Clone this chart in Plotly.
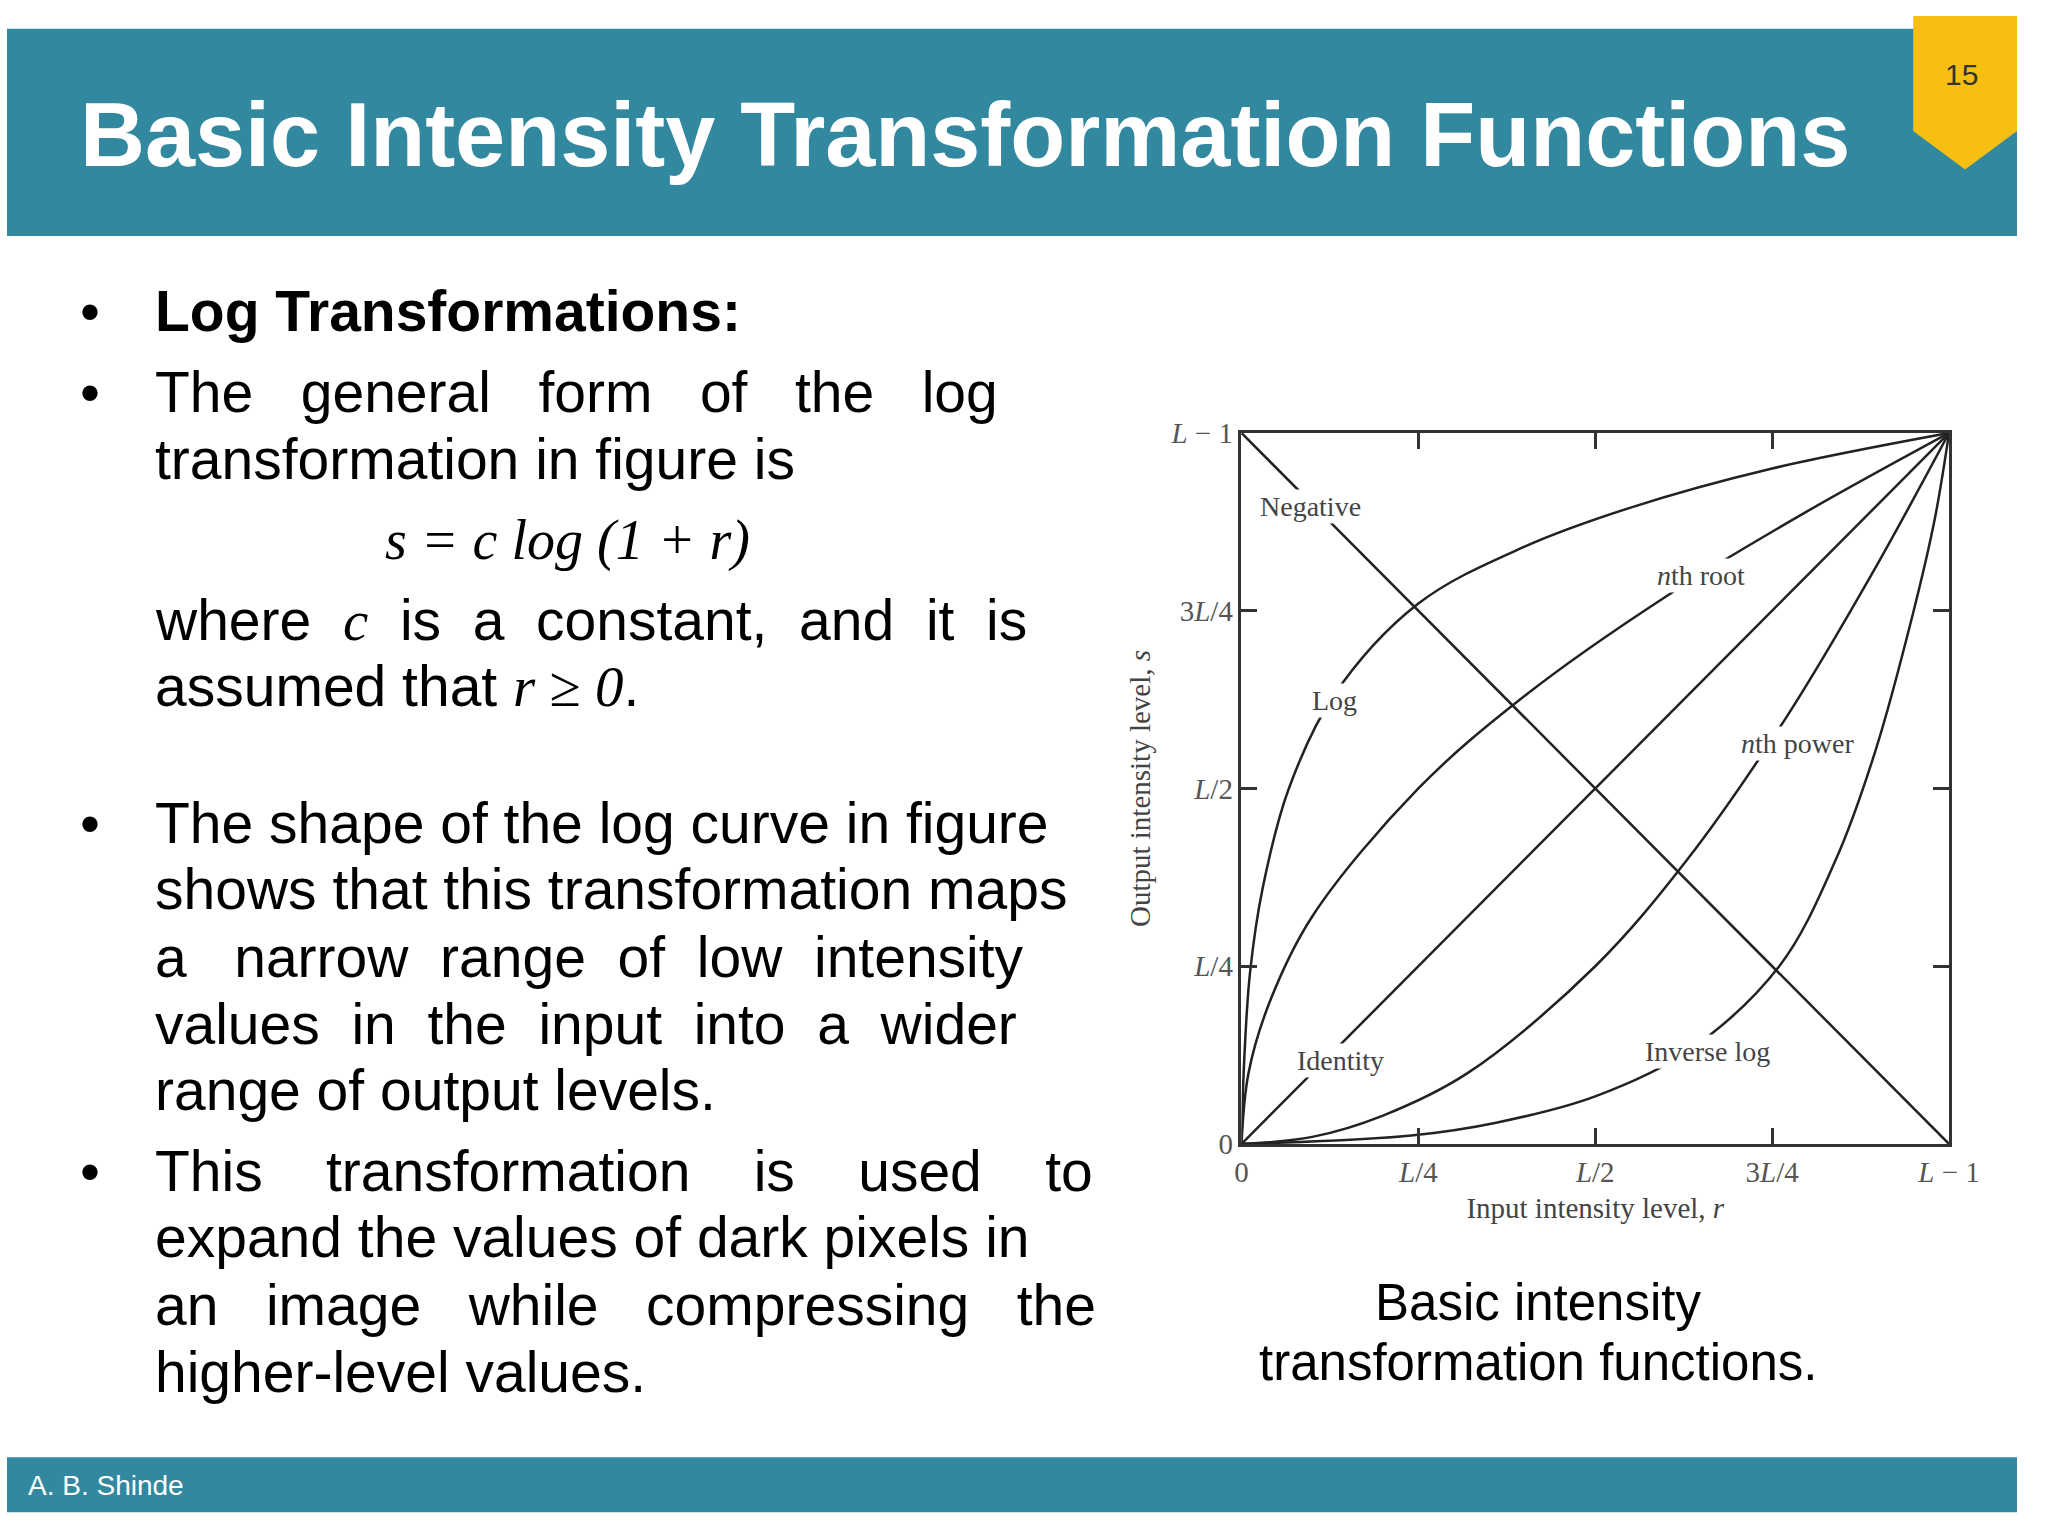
import plotly.graph_objects as go

W, H = 2048, 1536
S = 2048/1568

# data (fractions of L-1)
neg_x = [0, 1]; neg_y = [1, 0]
id_x = [0, 1]; id_y = [0, 1]
log_x = [0, 0.004, 0.012, 0.03, 0.067, 0.13, 0.25, 0.4, 0.55, 0.75, 1.0]
log_y = [0, 0.12, 0.24, 0.36, 0.5, 0.63, 0.76, 0.84, 0.895, 0.95, 1.0]
root_x = [0, 0.01, 0.04, 0.1, 0.25, 0.4, 0.6, 0.8, 1.0]
root_y = [0, 0.1, 0.2, 0.32, 0.5, 0.63, 0.77, 0.89, 1.0]
pow_x = [0, 0.1, 0.2, 0.32, 0.5, 0.63, 0.77, 0.89, 1.0]
pow_y = [0, 0.01, 0.04, 0.1, 0.25, 0.4, 0.6, 0.8, 1.0]
ilog_x = [0, 0.24, 0.36, 0.5, 0.63, 0.76, 0.84, 0.895, 0.95, 0.98, 1.0]
ilog_y = [0, 0.012, 0.03, 0.067, 0.13, 0.25, 0.4, 0.55, 0.75, 0.88, 1.0]
tick_vals = [0, 0.25, 0.5, 0.75, 1]
tick_text = ["0", "<i>L</i>/4", "<i>L</i>/2", "3<i>L</i>/4", "<i>L</i> − 1"]
labels = [("Negative", 0.098, 0.896), ("<i>n</i>th root", 0.65, 0.80), ("Log", 0.132, 0.624),
          ("<i>n</i>th power", 0.786, 0.563), ("Identity", 0.14, 0.117), ("Inverse log", 0.658, 0.13)]

fig = go.Figure()
ln = dict(color="#222", width=2.5)
for xs, ys, shp in [(neg_x, neg_y, "linear"), (id_x, id_y, "linear"), (log_x, log_y, "spline"),
                    (root_x, root_y, "spline"), (pow_x, pow_y, "spline"), (ilog_x, ilog_y, "spline")]:
    fig.add_trace(go.Scatter(x=xs, y=ys, mode="lines", line=dict(shape=shp, smoothing=1.0, **ln),
                             hoverinfo="skip", showlegend=False))
serif = "Liberation Serif"
for t, x, y in labels:
    fig.add_annotation(x=x, y=y, text=t, showarrow=False, bgcolor="white",
                       font=dict(family=serif, size=28, color="#444"))

x0, x1 = 963*S/W, 1515*S/W
y0, y1 = 1-882*S/H, 1-326*S/H
ax = dict(range=[0, 1], tickvals=tick_vals, ticktext=tick_text, ticks="inside", ticklen=16, tickwidth=2.5,
          tickcolor="#333", showline=True, linecolor="#333", linewidth=2.5, mirror="ticks",
          showgrid=False, zeroline=False, tickfont=dict(family=serif, size=29, color="#555"))
fig.update_layout(autosize=True, margin=dict(l=0, r=0, t=0, b=0), plot_bgcolor="white",
                  paper_bgcolor="white",
                  xaxis=dict(domain=[x0, x1], **ax,
                             title=dict(text="Input intensity level, <i>r</i>", font=dict(family=serif, size=29, color="#444"), standoff=12)),
                  yaxis=dict(domain=[y0, y1], **ax,
                             title=dict(text="Output intensity level, <i>s</i>", font=dict(family=serif, size=29, color="#444"), standoff=12)))

blue = "#32889f"
fig.add_shape(type="rect", xref="paper", yref="paper", x0=0, x1=1, y0=1-172*S/H, y1=1-10*S/H, fillcolor=blue, line_width=0, layer="below")
fig.add_shape(type="rect", xref="paper", yref="paper", x0=0, x1=1, y0=1-1170*S/H, y1=1-1127*S/H, fillcolor=blue, line_width=0, layer="below")
bx0, bx1, by = 1487*S, 1568*S, 120*S
mid = (bx0+bx1)/2
path = f"M{bx0/W},1 L{bx1/W},1 L{bx1/W},{1-90*S/H} L{mid/W},{1-by/H} L{bx0/W},{1-90*S/H} Z"
fig.add_shape(type="path", xref="paper", yref="paper", path=path, fillcolor="#f7bf12", line_width=0)

def ann(text, x, y, size, xanchor="left", color="black", family="Liberation Sans"):
    fig.add_annotation(xref="paper", yref="paper", x=x*S/W, y=1-y*S/H, text=text, showarrow=False,
                       xanchor=xanchor, yanchor="middle", font=dict(family=family, size=size, color=color))

ann("<b>Basic Intensity Transformation Functions</b>", 55, 93, 90, color="white")
ann("15", 1525, 46, 30, xanchor="center", color="#333")
ann("A. B. Shinde", 15, 1149, 28, color="white")

fs = 57
lines = [
    (231, "<b>Log Transformations:</b>", True),
    (294, "The   general   form   of   the   log", True),
    (346, "transformation in figure is", False),
    (472, "where  <span style='font-family:Liberation Serif'><i>c</i></span>  is  a  constant,  and  it  is", False),
    (524, "assumed that <span style='font-family:Liberation Serif'><i>r</i> ≥ <i>0</i></span>.", False),
    (631, "The shape of the log curve in figure", True),
    (683, "shows that this transformation maps", False),
    (736, "a   narrow  range  of  low  intensity", False),
    (788, "values  in  the  input  into  a  wider", False),
    (840, "range of output levels.", False),
    (903, "This    transformation    is    used    to", True),
    (955, "expand the values of dark pixels in", False),
    (1008, "an   image   while   compressing   the", False),
    (1060, "higher-level values.", False),
]
for y, t, bullet in lines:
    ann(t, 114, y, fs)
    if bullet:
        ann("•", 55, y, fs)
ann("<i>s = c log (1 + r)</i>", 437, 410, 56, xanchor="center", family=serif)
ann("Basic intensity", 1194, 1006, 51, xanchor="center")
ann("transformation functions.", 1194, 1053, 51, xanchor="center")

fig.write_html("out.html", config=dict(displayModeBar=False, responsive=True),
               default_width="100vw", default_height="100vh",
               post_script="document.body.style.margin='0';document.body.style.overflow='hidden';")
